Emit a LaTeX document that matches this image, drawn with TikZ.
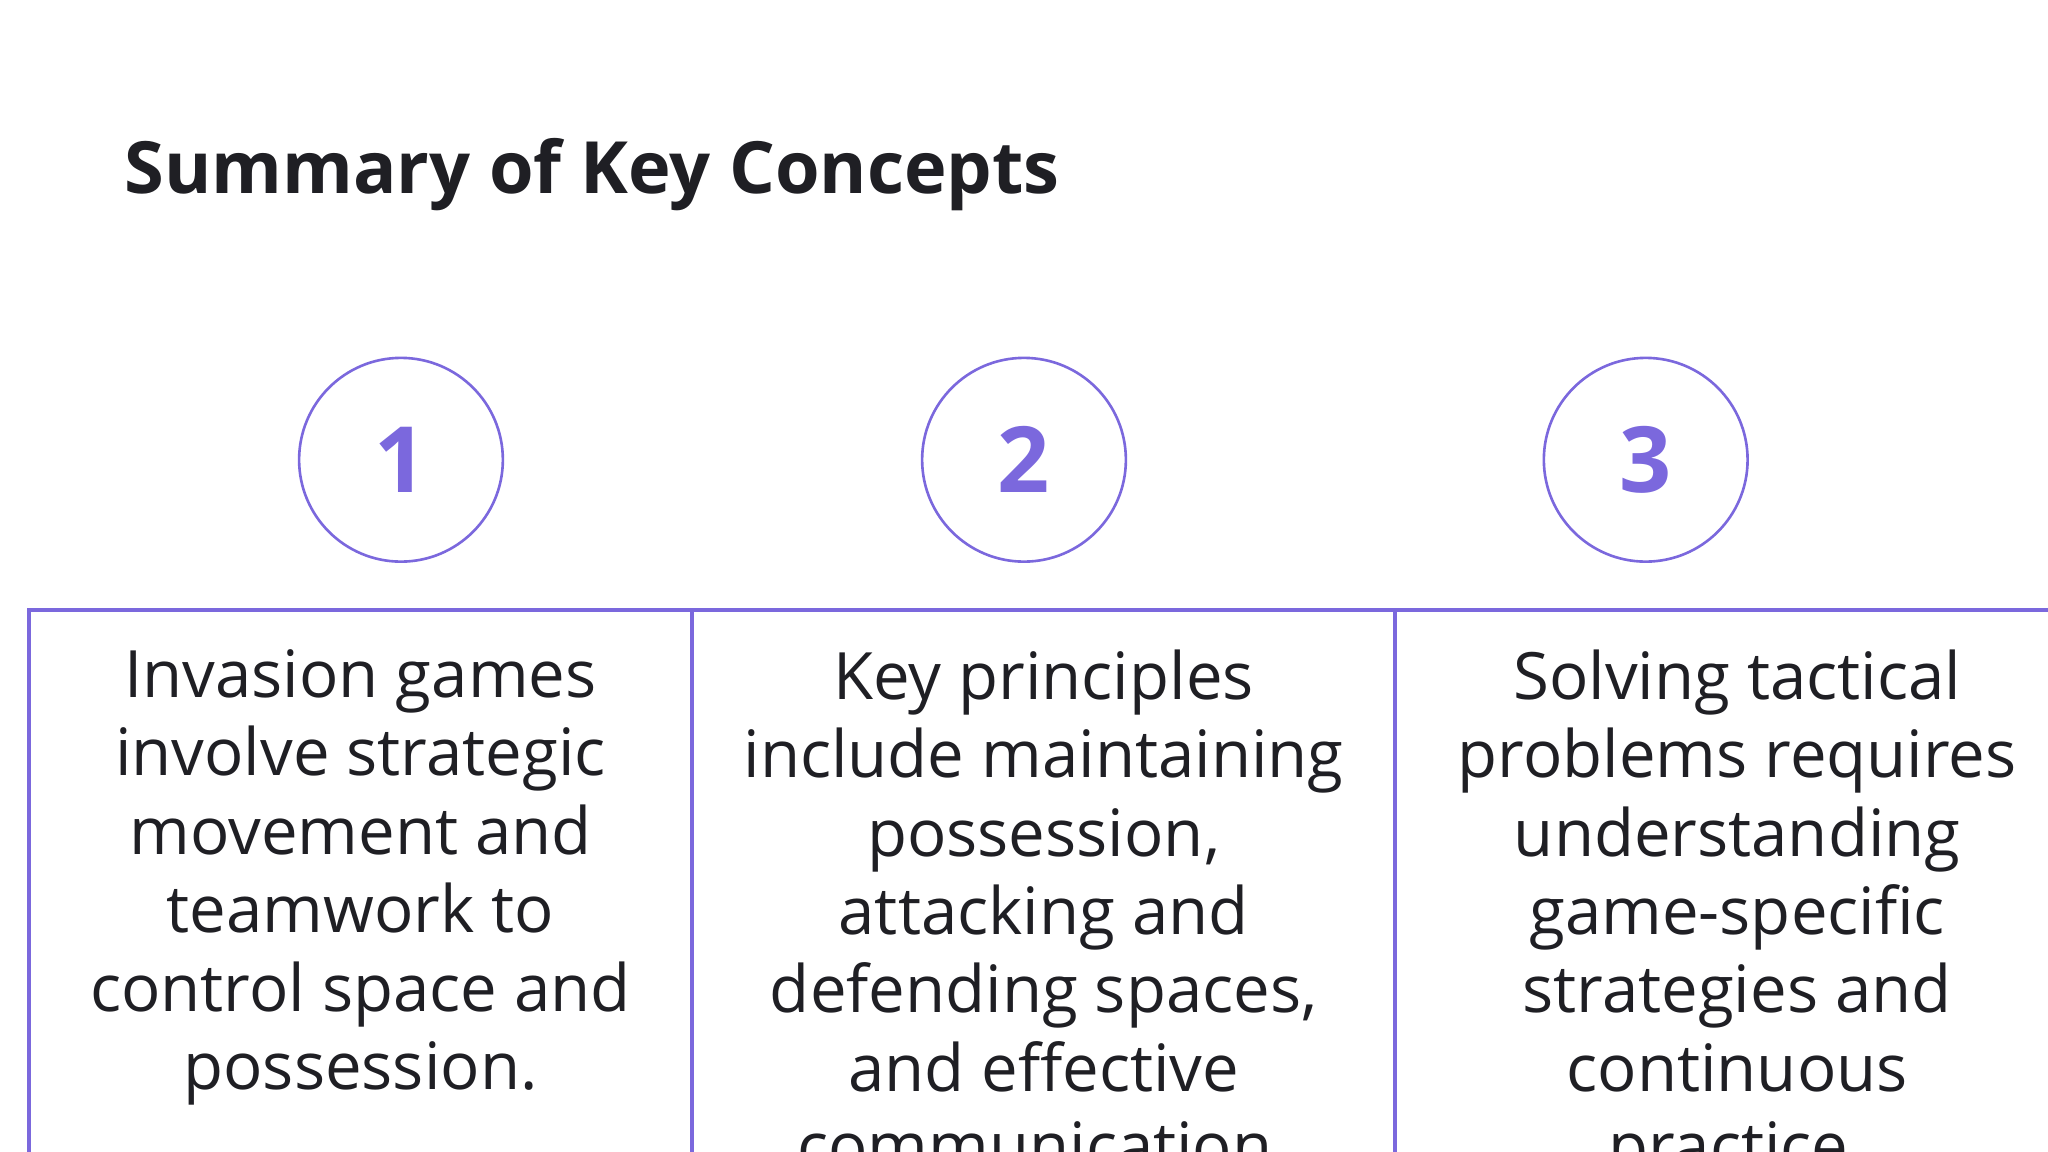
\documentclass[tikz,border=0pt]{standalone}
\usepackage{fontspec}
\setmainfont{Open Sans}
\definecolor{accent}{HTML}{7B68DD}
\definecolor{ink}{HTML}{1F1F24}
\tikzset{
  numcircle/.style={circle, draw=accent, line width=1pt, minimum size=78pt, inner sep=0pt,
    text=accent, font=\fontsize{35}{40}\selectfont\bfseries, text depth=-3pt},
  card/.style={draw=accent, line width=1.5pt},
  cardtext/.style={anchor=north, align=center, text=ink, inner sep=0pt,
    font=\fontsize{25}{30}\selectfont}
}
\begin{document}
\begin{tikzpicture}[x=0.5pt, y=-0.5pt]
  \useasboundingbox (0,0) rectangle (1568,882);
  \clip (0,0) rectangle (1568,882);
  \node[anchor=base west, text=ink, inner sep=0pt, font=\fontsize{27.6}{33}\selectfont\bfseries]
    (title) at (95,148) {Summary of Key Concepts};
  % numbers
  \node[numcircle] (one) at (307,352) {1};
  \node[numcircle] (two) at (784,352) {2};
  \node[numcircle] (three) at (1260,352) {3};
  % cards
  \draw[card] (22,467) rectangle (530,900);
  \draw[card] (530,467) rectangle (1068,900);
  \draw[card] (1068,467) rectangle (1600,900);
  \node[cardtext] (textone) at (276,497)
    {Invasion games\\involve strategic\\movement and\\teamwork to\\control space and\\possession.};
  \node[cardtext] (texttwo) at (799,497)
    {Key principles\\include maintaining\\possession,\\attacking and\\defending spaces,\\and effective\\communication.};
  \node[cardtext] (textthree) at (1330,497)
    {Solving tactical\\problems requires\\understanding\\game-specific\\strategies and\\continuous\\practice.};
\end{tikzpicture}
\end{document}
